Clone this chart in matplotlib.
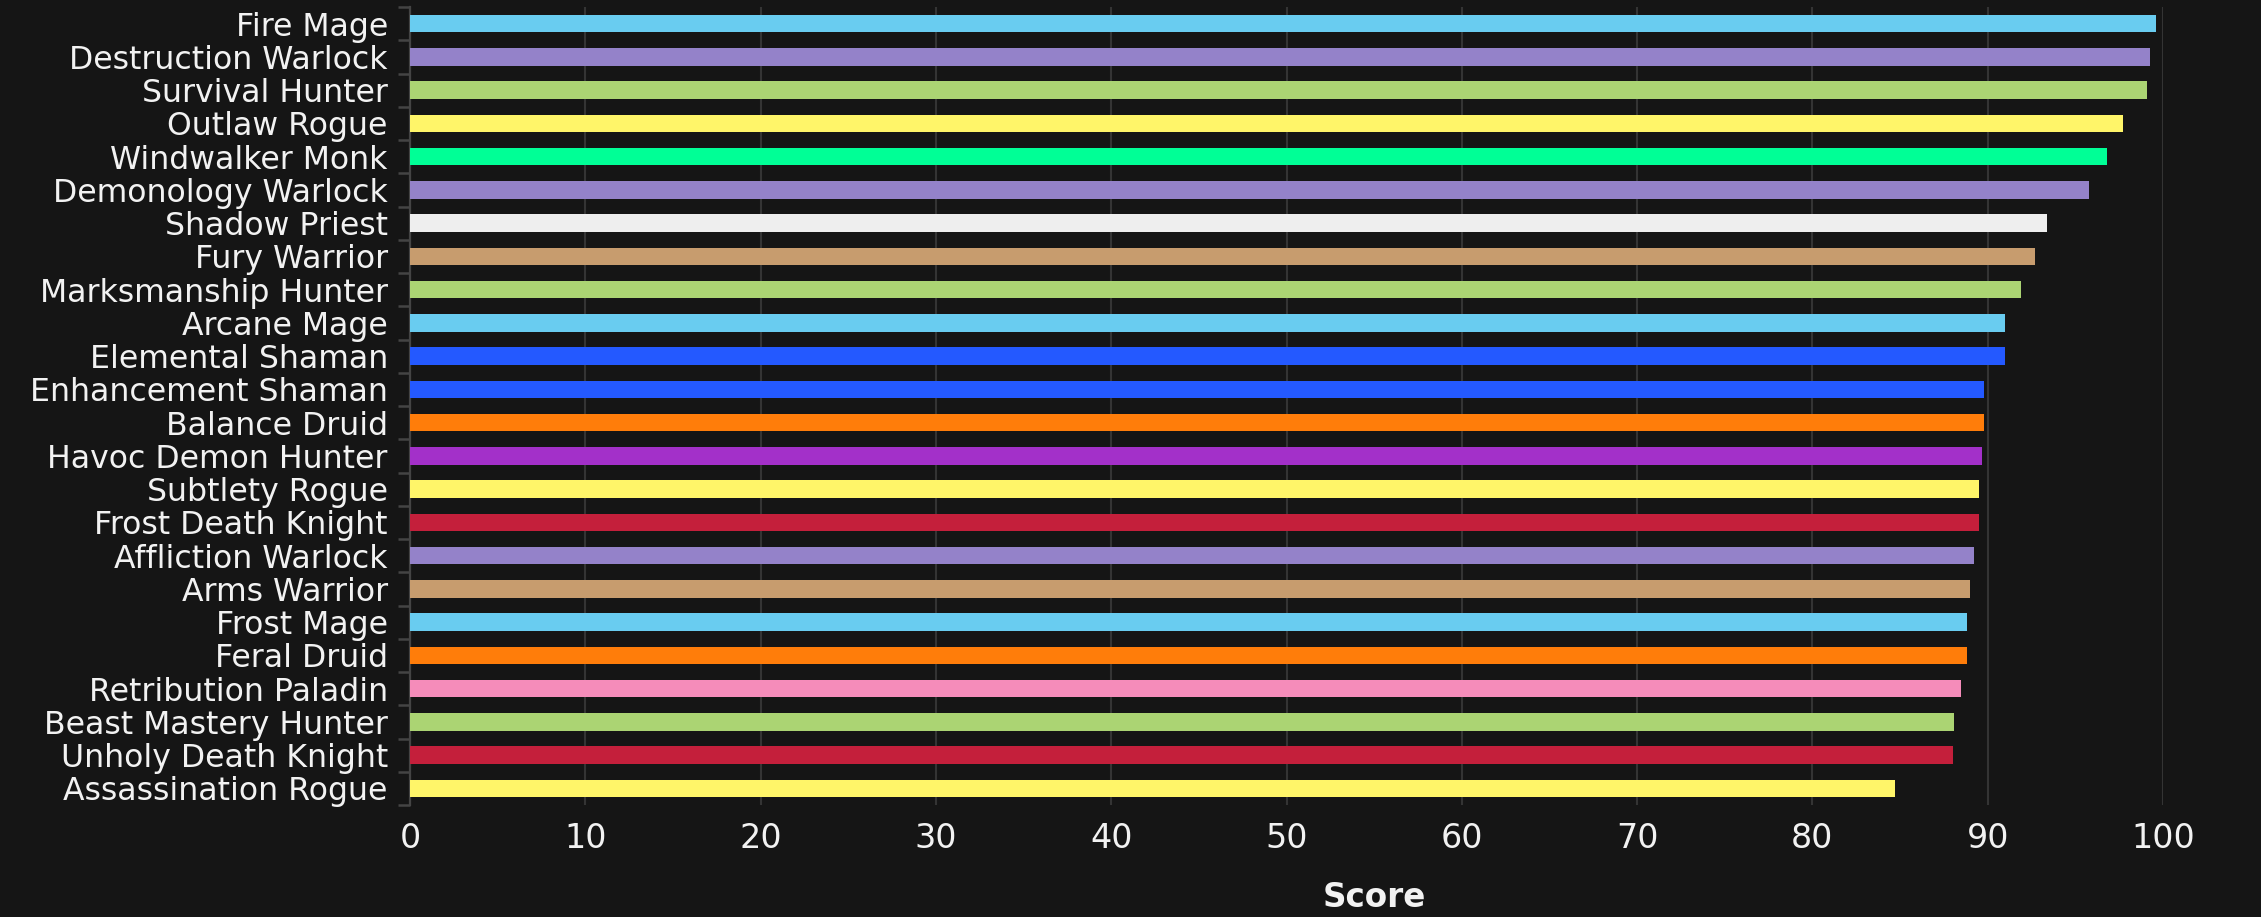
import matplotlib
matplotlib.use("Agg")
import matplotlib.pyplot as plt
import numpy as np

specs = ["Fire Mage", "Destruction Warlock", "Survival Hunter", "Outlaw Rogue",
         "Windwalker Monk", "Demonology Warlock", "Shadow Priest", "Fury Warrior",
         "Marksmanship Hunter", "Arcane Mage", "Elemental Shaman", "Enhancement Shaman",
         "Balance Druid", "Havoc Demon Hunter", "Subtlety Rogue", "Frost Death Knight",
         "Affliction Warlock", "Arms Warrior", "Frost Mage", "Feral Druid",
         "Retribution Paladin", "Beast Mastery Hunter", "Unholy Death Knight",
         "Assassination Rogue"]
scores = [99.6, 99.25, 99.1, 97.7, 96.8, 95.8, 93.4, 92.7, 91.9, 91.0, 91.0, 89.8,
          89.8, 89.7, 89.5, 89.5, 89.2, 89.0, 88.8, 88.8, 88.5, 88.1, 88.0, 84.7]

class_colors = {
    "Mage": "#69CCF0", "Warlock": "#9482C9", "Hunter": "#ABD473", "Rogue": "#FFF569",
    "Monk": "#00FF96", "Priest": "#EEEEEE", "Warrior": "#C79C6E", "Shaman": "#2459FF",
    "Druid": "#FF7D0A", "Demon Hunter": "#A330C9", "Death Knight": "#C41F3B",
    "Paladin": "#F58CBA",
}

def spec_color(name):
    for cls in ["Demon Hunter", "Death Knight"]:
        if name.endswith(cls):
            return class_colors[cls]
    return class_colors[name.split()[-1]]

colors = [spec_color(s) for s in specs]

bg = "#151515"
grid_c = "#343434"
text_c = "#F2F2F2"

plt.rcParams['font.family'] = ['DejaVu Sans']

fig = plt.figure(figsize=(22.61, 9.17), dpi=100, facecolor=bg)
ax = fig.add_axes([410 / 2261, 112 / 917, (2163 - 410) / 2261, (805 - 7) / 917])
ax.set_facecolor(bg)

y = np.arange(len(specs))
ax.barh(y, scores, height=0.53, color=colors, zorder=3)

ax.set_xlim(0, 100)
ax.set_ylim(len(specs) - 0.5, -0.5)
ax.set_xticks(np.arange(0, 101, 10))
ax.set_yticks(y)
ax.set_yticklabels(specs)
# small ticks at the band edges
ax.set_yticks(np.arange(len(specs) + 1) - 0.5, minor=True)

ax.grid(axis="x", color=grid_c, linewidth=1.5, zorder=0)
ax.set_axisbelow(True)

for side in ["top", "right", "bottom"]:
    ax.spines[side].set_visible(False)
ax.spines["left"].set_color("#444444")
ax.spines["left"].set_linewidth(1.6)

ax.tick_params(axis="x", length=0, pad=12, labelsize=24, labelcolor=text_c)
ax.tick_params(axis="y", which="major", length=0, pad=16, labelsize=22.7, labelcolor=text_c)
ax.tick_params(axis="y", which="minor", length=8.5, width=1.8, color="#444444")

ax.set_xlabel("Score", fontsize=23.5, fontweight="bold", color=text_c)
ax.xaxis.set_label_coords(0.55, -0.095)

fig.savefig("out.png", dpi=100, facecolor=bg)
